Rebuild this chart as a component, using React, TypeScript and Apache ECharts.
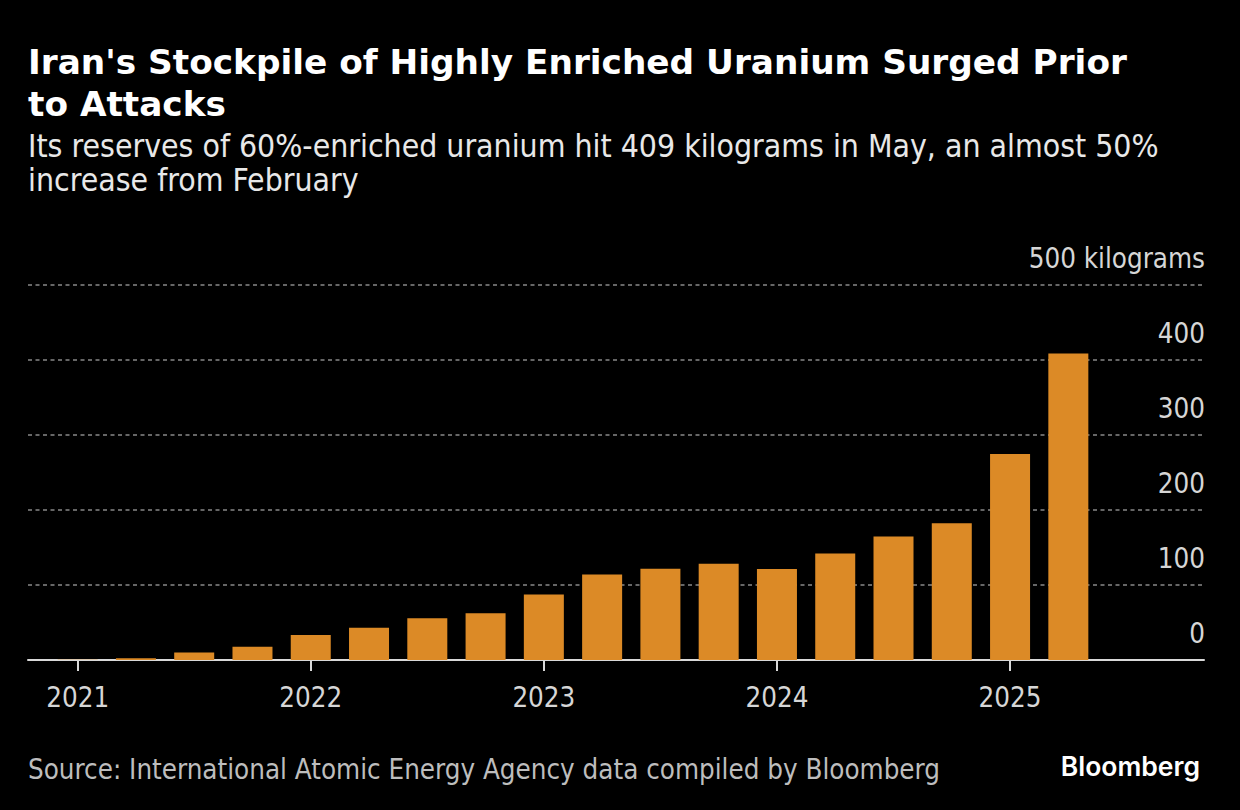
import React, { useEffect, useRef } from "react";
import * as echarts from "echarts";

// Quarterly readings of Iran's 60%-enriched uranium stockpile (kilograms)
const quarters = [
  2021, 2021.25, 2021.5, 2021.75,
  2022, 2022.25, 2022.5, 2022.75,
  2023, 2023.25, 2023.5, 2023.75,
  2024, 2024.25, 2024.5, 2024.75,
  2025, 2025.25,
];
const stockpileKg = [
  0.4, 2.4, 10, 17.7,
  33.2, 43.1, 55.6, 62.3,
  87.5, 114.1, 121.6, 128.3,
  121.5, 142.1, 164.7, 182.3,
  274.8, 408.6,
];
const yearTicks = [2021, 2022, 2023, 2024, 2025];
const yTicks = [0, 100, 200, 300, 400, 500];

const titleText = "Iran's Stockpile of Highly Enriched Uranium Surged Prior\nto Attacks";
const subtitleText =
  "Its reserves of 60%-enriched uranium hit 409 kilograms in May, an almost 50%\nincrease from February";
const sourceText = "Source: International Atomic Energy Agency data compiled by Bloomberg";

const BODY_FONT = "'DejaVu Sans Condensed', 'DejaVu Sans', sans-serif";

export default function App() {
  const ref = useRef<HTMLDivElement>(null);

  useEffect(() => {
    document.body.style.margin = "0";
    document.body.style.background = "#000";
    if (!ref.current) return;
    const chart = echarts.init(ref.current, null, { renderer: "svg" });

    chart.setOption({
      animation: false,
      backgroundColor: "#000000",
      title: [
        {
          text: titleText,
          left: 28,
          top: 41,
          padding: 0,
          textStyle: {
            color: "#ffffff",
            fontFamily: "'DejaVu Sans', sans-serif",
            fontWeight: "bold",
            fontSize: 34.3,
            lineHeight: 42,
          },
        },
        {
          text: subtitleText,
          left: 28,
          top: 129,
          padding: 0,
          textStyle: {
            color: "#e8e8e8",
            fontFamily: BODY_FONT,
            fontWeight: "normal",
            fontSize: 31.7,
            lineHeight: 34,
          },
        },
        {
          text: sourceText,
          left: 28,
          top: 754,
          padding: 0,
          textStyle: {
            color: "#bdbdbd",
            fontFamily: BODY_FONT,
            fontWeight: "normal",
            fontSize: 27.5,
            lineHeight: 30,
          },
        },
        {
          text: "Bloomberg",
          right: 40,
          top: 751,
          padding: 0,
          textStyle: {
            color: "#ffffff",
            fontFamily: "Inter, 'Open Sans', sans-serif",
            fontWeight: 600,
            fontSize: 26.5,
            lineHeight: 30,
            letterSpacing: -0.3,
          },
        },
      ],
      grid: { left: 28, right: 36, top: 285, bottom: 150, containLabel: false },
      xAxis: {
        type: "value",
        min: 2020.787,
        max: 2025.832,
        splitLine: { show: false },
        axisLine: { show: true, onZero: false, lineStyle: { color: "#d9d9d9", width: 2 } },
        axisTick: {
          show: true,
          customValues: yearTicks,
          length: 11,
          lineStyle: { color: "#d9d9d9", width: 2 },
        },
        axisLabel: {
          customValues: yearTicks,
          color: "#d6d6d6",
          fontFamily: BODY_FONT,
          fontSize: 27.5,
          margin: 23,
          formatter: (v: number) => String(Math.round(v)),
        },
      },
      yAxis: {
        type: "value",
        position: "right",
        min: 0,
        max: 500,
        interval: 100,
        axisLine: { show: false },
        axisTick: { show: false },
        splitLine: {
          show: true,
          lineStyle: { color: "#666666", width: 2, type: [4, 3.5] },
        },
        axisLabel: {
          inside: true,
          margin: -1,
          align: "right",
          verticalAlign: "bottom",
          lineHeight: 28,
          padding: [0, 0, 13, 0],
          color: "#d6d6d6",
          fontFamily: BODY_FONT,
          fontSize: 27.5,
          customValues: yTicks,
          formatter: (v: number) => (v === 500 ? "500 kilograms" : String(v)),
        },
      },
      series: [
        {
          type: "bar",
          barWidth: 40,
          data: quarters.map((q, i) => [q, stockpileKg[i]]),
          itemStyle: { color: "#dc8a26" },
          z: 3,
        },
      ],
    });

    return () => chart.dispose();
  }, []);

  return <div ref={ref} style={{ width: 1240, height: 810 }} />;
}
